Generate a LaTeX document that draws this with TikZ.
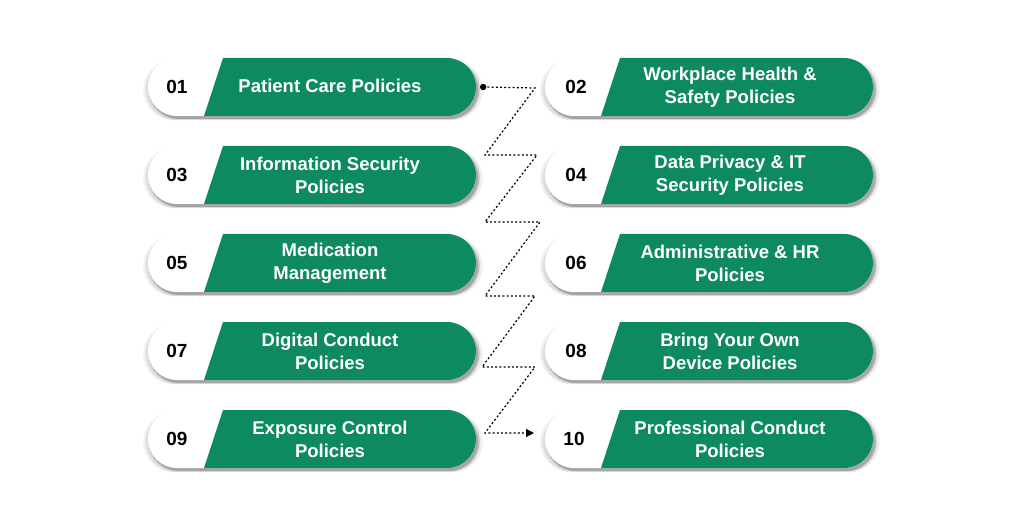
\documentclass[tikz,border=0pt]{standalone}
\usepackage{fontspec}
\setmainfont{Liberation Sans}
\usetikzlibrary{shapes.misc,shadows,arrows.meta}
\definecolor{pgreen}{HTML}{0E8A5F}
\begin{document}
\begin{tikzpicture}[x=1pt,y=-1pt,
  pill/.style={rounded rectangle, minimum width=328pt, minimum height=58pt, inner sep=0pt,
    fill=white,
    drop shadow={shadow xshift=1pt, shadow yshift=-3pt, shadow scale=1.035, opacity=0.06, fill=black},
    drop shadow={shadow xshift=1pt, shadow yshift=-3pt, shadow scale=1.02, opacity=0.08, fill=black},
    drop shadow={shadow xshift=2pt, shadow yshift=-3pt, shadow scale=1.008, opacity=0.12, fill=black},
    drop shadow={shadow xshift=2pt, shadow yshift=-3pt, shadow scale=1.0, opacity=0.15, fill=black},
    path picture={\fill[pgreen] ([xshift=75pt]path picture bounding box.north west)
      -- ([xshift=20pt]path picture bounding box.north east)
      -- ([xshift=20pt]path picture bounding box.south east)
      -- ([xshift=56pt]path picture bounding box.south west) -- cycle;}},
  num/.style={font=\bfseries\fontsize{19}{22}\selectfont, text=black},
  lab/.style={font=\bfseries\fontsize{18.5}{23}\selectfont, text=white, align=center},
  conn/.style={line width=1.2pt, dash pattern=on 2pt off 2.2pt, black}
]
\useasboundingbox[fill=white] (0,0) rectangle (1024,526);
% left column
\node[pill] (p1) at (312,87) {};
\node[pill] (p3) at (312,175) {};
\node[pill] (p5) at (312,263) {};
\node[pill] (p7) at (312,351) {};
\node[pill] (p9) at (312,439) {};
% right column
\node[pill] (p2) at (709,87) {};
\node[pill] (p4) at (709,175) {};
\node[pill] (p6) at (709,263) {};
\node[pill] (p8) at (709,351) {};
\node[pill] (p10) at (709,439) {};
% numbers
\node[num] (n1) at (177,87) {01};
\node[num] (n3) at (177,175) {03};
\node[num] (n5) at (177,263) {05};
\node[num] (n7) at (177,351) {07};
\node[num] (n9) at (177,439) {09};
\node[num] (n2) at (576,87) {02};
\node[num] (n4) at (576,175) {04};
\node[num] (n6) at (576,263) {06};
\node[num] (n8) at (576,351) {08};
\node[num] (n10) at (574,439) {10};
% labels
\node[lab] (l1) at (330,86) {Patient Care Policies};
\node[lab] (l3) at (330,175) {Information Security\\Policies};
\node[lab] (l5) at (330,263) {Medication\\Management};
\node[lab] (l7) at (330,351) {Digital Conduct\\Policies};
\node[lab] (l9) at (330,439) {Exposure Control\\Policies};
\node[lab] (l2) at (730,87) {Workplace Health \&\\Safety Policies};
\node[lab] (l4) at (730,175) {Data Privacy \& IT\\Security Policies};
\node[lab] (l6) at (730,263) {Administrative \& HR\\Policies};
\node[lab] (l8) at (730,351) {Bring Your Own\\Device Policies};
\node[lab] (l10) at (730,439) {Professional Conduct\\Policies};
% connector
\coordinate (s) at ([xshift=7pt]p1.east);
\coordinate (e) at (534,433);
\fill (s) circle (3.2pt);
\draw[conn, -{Triangle[length=8pt,width=8pt]}] (s) -- (535,88) -- (485,155) -- (537,155) -- (485,222) -- (540,222)
  -- (485,296) -- (535,296) -- (482,367) -- (535,367) -- (485,433) -- (e);
\end{tikzpicture}
\end{document}
